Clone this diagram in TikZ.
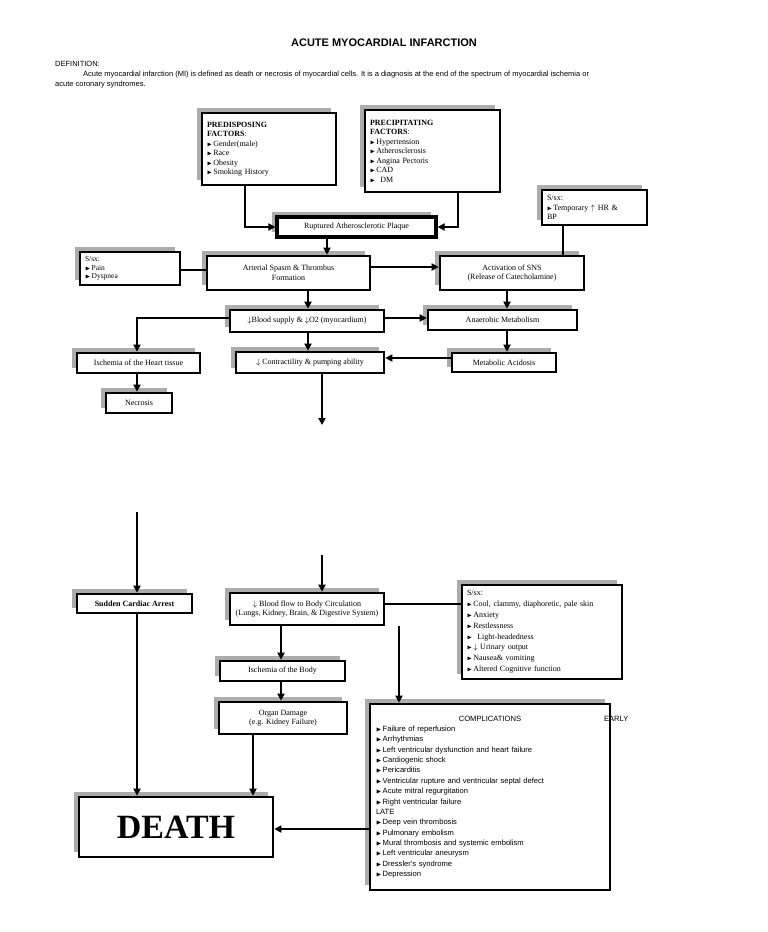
\documentclass[tikz,border=0pt]{standalone}
\usepackage{amssymb}
\usepackage{fontspec}
\setmainfont{Liberation Serif}
\newfontfamily\sans{Liberation Sans}
\usetikzlibrary{arrows.meta,shadows}
\newcommand\bl{\scalebox{0.8}{$\blacktriangleright$}\,}
\begin{document}
\begin{tikzpicture}[x=1pt,y=-1pt,
 box/.style={draw,line width=2.6pt,fill=white,inner sep=3pt,font=\fontsize{8}{9.5}\selectfont,
   drop shadow={shadow xshift=-5pt,shadow yshift=5pt,fill=gray!65,opacity=1}},
 arr/.style={line width=2pt,-{Triangle[length=7pt,width=7pt]}},
 ln/.style={line width=2pt}]
\useasboundingbox (0,0) rectangle (768,932);
\node[font=\sans\bfseries\fontsize{11}{13}\selectfont] (title) at (384,43) {ACUTE MYOCARDIAL INFARCTION};
\node[anchor=north west,font=\sans\fontsize{7.5}{10}\selectfont,align=left,inner sep=0] (def) at (55,61)
 {DEFINITION:\\ \hspace*{28pt}Acute myocardial infarction (MI) is defined as death or necrosis of myocardial cells. It is a diagnosis at the end of the spectrum of myocardial ischemia or\\ acute coronary syndromes.};
\node[box,minimum width=134pt,minimum height=72pt,text width=124pt,align=left] (pre) at (269,149)
 {\textbf{PREDISPOSING}\\\textbf{FACTORS}:\\\bl Gender(male)\\\bl Race\\\bl Obesity\\\bl Smoking History};
\node[box,minimum width=135pt,minimum height=82pt,text width=125pt,align=left] (prc) at (432.5,151)
 {\textbf{PRECIPITATING}\\\textbf{FACTORS}:\\\bl Hypertension\\\bl Atherosclerosis\\\bl Angina Pectoris\\\bl CAD\\\bl\, DM};
\node[box,minimum width=105pt,minimum height=35pt,text width=95pt,align=left,line width=2pt] (tmp) at (594.5,207.5)
 {S/sx:\\\bl Temporary $\uparrow$ HR \&\\ BP};
\node[box,minimum width=159pt,minimum height=20pt,line width=3.2pt] (rup) at (356.5,227) {Ruptured Atherosclerotic Plaque};
\node[box,minimum width=100pt,minimum height=33pt,text width=90pt,align=left,line width=2pt,font=\fontsize{7.5}{8.5}\selectfont] (pain) at (130,268.5)
 {S/sx:\\\bl Pain\\\bl Dyspnea};
\node[box,minimum width=163pt,minimum height=34pt,align=center] (art) at (288.5,273) {Arterial Spasm \& Thrombus\\Formation};
\node[box,minimum width=144pt,minimum height=34pt,align=center] (sns) at (512,273) {Activation of SNS\\(Release of Catecholamine)};
\node[box,minimum width=154pt,minimum height=22pt] (bls) at (307,321) {$\downarrow$Blood supply \& $\downarrow$O2 (myocardium)};
\node[box,minimum width=149pt,minimum height=20pt] (ana) at (502.5,320) {Anaerobic Metabolism};
\node[box,minimum width=123pt,minimum height=20pt] (ish) at (138.5,363) {Ischemia of the Heart tissue};
\node[box,minimum width=148pt,minimum height=21pt] (con) at (310,362.5) {$\downarrow$ Contractility \& pumping ability};
\node[box,minimum width=104pt,minimum height=19pt] (met) at (504,362.5) {Metabolic Acidosis};
\node[box,minimum width=66pt,minimum height=20pt] (nec) at (139,403) {Necrosis};
\node[box,minimum width=115pt,minimum height=19pt] (sca) at (134.5,603.5) {\textbf{Sudden Cardiac Arrest}};
\node[box,minimum width=154pt,minimum height=32pt,align=center] (blf) at (307,609) {$\downarrow$ Blood flow to Body Circulation\\(Lungs, Kidney, Brain, \& Digestive System)};
\node[box,minimum width=160pt,minimum height=94pt,text width=150pt,align=left,font=\fontsize{8}{10.8}\selectfont] (sx2) at (542,632)
 {S/sx:\\\bl Cool, clammy, diaphoretic, pale skin\\\bl Anxiety\\\bl Restlessness\\\bl\, Light-headedness\\\bl $\downarrow$ Urinary output\\\bl Nausea\& vomiting\\\bl Altered Cognitive function};
\node[box,minimum width=125pt,minimum height=20pt] (isb) at (282.5,671) {Ischemia of the Body};
\node[box,minimum width=128pt,minimum height=32pt,align=center] (org) at (283,718) {Organ Damage\\(e.g. Kidney Failure)};
\node[box,minimum width=240pt,minimum height=186pt,text width=228pt,align=left,font=\sans\fontsize{7.6}{10.35}\selectfont] (cmp) at (490,797)
 {\centerline{COMPLICATIONS}EARLY\\\bl Failure of reperfusion\\\bl Arrhythmias\\\bl Left ventricular dysfunction and heart failure\\\bl Cardiogenic shock\\\bl Pericarditis\\\bl Ventricular rupture and ventricular septal defect\\\bl Acute mitral regurgitation\\\bl Right ventricular failure\\LATE\\\bl Deep vein thrombosis\\\bl Pulmonary embolism\\\bl Mural thrombosis and systemic embolism\\\bl Left ventricular aneurysm\\\bl Dressler's syndrome\\\bl Depression};
\node[box,minimum width=194pt,minimum height=60pt,font=\bfseries\fontsize{34}{36}\selectfont] (dth) at (176,827) {DEATH};
% coordinates
\coordinate (c245) at (245,0); \coordinate (c458) at (458,0);
\coordinate (c327) at (327,0); \coordinate (c563) at (563,0);
\coordinate (c308) at (308,0); \coordinate (c507) at (507,0);
\coordinate (c137) at (137,0); \coordinate (c322) at (322,0);
\coordinate (c281) at (281,0); \coordinate (c399) at (399,0);
\coordinate (c253) at (253,0);
\coordinate (e1) at (322,425); \coordinate (s2) at (137,512); \coordinate (s3) at (322,555);
\coordinate (y318) at (0,318); \coordinate (y358) at (0,358); \coordinate (y267) at (0,267);
\coordinate (y604) at (0,604); \coordinate (y829) at (0,829); \coordinate (y270) at (0,270);
\draw[arr] (pre.south -| c245) |- (rup.west);
\draw[arr] (prc.south -| c458) |- (rup.east);
\draw[arr] (rup.south -| c327) -- (art.north -| c327);
\draw[ln] (pain.east |- y270) -- (art.west |- y270);
\draw[arr] (art.east |- y267) -- (sns.west |- y267);
\draw[ln] (tmp.south -| c563) -- (sns.north -| c563);
\draw[arr] (art.south -| c308) -- (bls.north -| c308);
\draw[arr] (sns.south -| c507) -- (ana.north -| c507);
\draw[arr] (bls.east |- y318) -- (ana.west |- y318);
\draw[arr] (bls.west |- y318) -| (ish.north -| c137);
\draw[arr] (ish.south -| c137) -- (nec.north -| c137);
\draw[arr] (bls.south -| c308) -- (con.north -| c308);
\draw[arr] (ana.south -| c507) -- (met.north -| c507);
\draw[arr] (met.west |- y358) -- (con.east |- y358);
\draw[arr] (con.south -| c322) -- (e1);
\draw[arr] (s2) -- (s2 |- sca.north);
\draw[arr] (s3) -- (blf.north -| c322);
\draw[ln] (blf.east |- y604) -- (sx2.west |- y604);
\draw[arr] (blf.south -| c281) -- (isb.north -| c281);
\draw[arr] (isb.south -| c281) -- (org.north -| c281);
\draw[arr] (blf.south -| c399) -- (cmp.north -| c399);
\draw[arr] (sca.south -| c137) -- (dth.north -| c137);
\draw[arr] (org.south -| c253) -- (dth.north -| c253);
\draw[arr] (cmp.west |- y829) -- (dth.east |- y829);
\end{tikzpicture}
\end{document}
